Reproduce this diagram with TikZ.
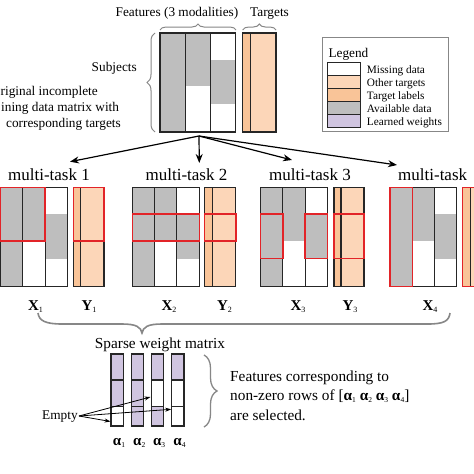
\documentclass[tikz,border=0pt]{standalone}
\usepackage{fontspec}
\setmainfont{Liberation Serif}
\usetikzlibrary{arrows.meta,decorations.pathreplacing}

\definecolor{availgray}{RGB}{190,190,190}
\definecolor{othertgt}{RGB}{252,214,184}
\definecolor{tgtlabel}{RGB}{249,196,152}
\definecolor{weightpurple}{RGB}{208,197,224}
\definecolor{selred}{RGB}{226,36,40}
\definecolor{bracegray}{RGB}{135,135,135}

\tikzset{
  cell/.style={draw=black!85, line width=1.1pt},
  sel/.style={draw=selred, line width=1.4pt},
  gbrace/.style={draw=bracegray, line width=1pt, decorate},
  txt/.style={font=\fontsize{13.3}{15}\selectfont, inner sep=0pt},
  bigtxt/.style={font=\fontsize{15.3}{18}\selectfont, inner sep=0pt},
  tasktxt/.style={font=\fontsize{17}{19}\selectfont, inner sep=0pt},
  legtxt/.style={font=\fontsize{11.3}{13}\selectfont, inner sep=0pt, anchor=base west},
  vlabel/.style={font=\fontsize{15}{17}\selectfont, inner sep=0pt, anchor=base},
  splitarrow/.style={line width=1.2pt, -{Stealth[length=9pt,width=7pt]}},
  emptyarrow/.style={line width=0.8pt, -{Stealth[length=6pt,width=4pt]}},
}

% a block of the three feature modalities: x, y, column width, height
\newcommand\featblock[4]{%
  \fill[availgray] (#1,#2) rectangle ++(#3,#4);
  \fill[availgray] ({#1+#3},#2) rectangle ({#1+2*#3},{#2+0.54*#4});
  \fill[availgray] ({#1+2*#3},{#2+0.27*#4}) rectangle ({#1+3*#3},{#2+0.72*#4});
  \draw[cell] (#1,#2) rectangle ({#1+3*#3},{#2+#4});
  \draw[cell] ({#1+#3},#2) -- ++(0,#4) ({#1+2*#3},#2) -- ++(0,#4);
}
% a target block: x, y, width, height, width of the target-label strip
\newcommand\tgtblock[5]{%
  \fill[othertgt] (#1,#2) rectangle ++(#3,#4);
  \fill[tgtlabel] (#1,#2) rectangle ++(#5,#4);
  \draw[cell] (#1,#2) rectangle ++(#3,#4);
  \draw[cell] ({#1+#5},#2) -- ++(0,#4);
}
% bold symbol with a small subscript
\newcommand\bsub[2]{\textbf{#1}\raisebox{-0.35ex}{\fontsize{8}{8}\selectfont #2}}
\newcommand\asub[2]{\textbf{#1}\raisebox{-0.35ex}{\fontsize{7.5}{8}\selectfont #2}}

\begin{document}
\begin{tikzpicture}[x=1pt, y=-1pt]
\useasboundingbox (0,0) rectangle (474,474);
\clip (0,0) rectangle (474,474);
\fill[white] (0,0) rectangle (474,474);

% ---------- full training data ----------
\featblock{160}{33}{25.2}{99}
\tgtblock{242.7}{33}{33.3}{99}{8}

\draw[gbrace, decoration={brace, amplitude=6pt}] (160,30) -- (236,30);
\draw[gbrace, decoration={brace, amplitude=6pt}] (242.7,30) -- (276,30);
\draw[gbrace, decoration={brace, amplitude=8pt}] (155,132) -- (155,33);

\node[txt, anchor=base] (feat) at (177,16.5) {Features (3 modalities)};
\node[txt, anchor=base] (tgts) at (269.5,16.5) {Targets};
\node[txt, anchor=base east] (subj) at (137,71.5) {Subjects};
\node[txt, anchor=base east] (orig1) at (98,95.5) {riginal incomplete};
\node[txt, anchor=base west] (orig2) at (1,111.5) {ining data matrix with};
\node[txt, anchor=base east] (orig3) at (121,127.5) {corresponding targets};

% ---------- legend ----------
\draw[draw=bracegray, line width=0.9pt] (322.7,37.3) rectangle (448.3,131.7);
\node[txt, anchor=base west] (legtitle) at (328.3,57.5) {Legend};
\fill[white]        (327.3,62.3)  rectangle (360.7,75.4);
\fill[othertgt]     (327.3,75.4)  rectangle (360.7,88.5);
\fill[tgtlabel]     (327.3,88.5)  rectangle (360.7,101.6);
\fill[availgray]    (327.3,101.6) rectangle (360.7,114.7);
\fill[weightpurple] (327.3,114.7) rectangle (360.7,127.8);
\draw[cell] (327.3,62.3) rectangle (360.7,127.8);
\draw[cell] (327.3,75.4) -- (360.7,75.4) (327.3,88.5) -- (360.7,88.5)
            (327.3,101.6) -- (360.7,101.6) (327.3,114.7) -- (360.7,114.7);
\node[legtxt] (lg1) at (366.7,73.3)  {Missing data};
\node[legtxt] (lg2) at (366.7,86.4)  {Other targets};
\node[legtxt] (lg3) at (366.7,99.5)  {Target labels};
\node[legtxt] (lg4) at (366.7,112.6) {Available data};
\node[legtxt] (lg5) at (366.7,125.7) {Learned weights};

% ---------- split into tasks ----------
\coordinate (src) at (199,136);
\coordinate (t1) at (70,161.7);
\coordinate (t2) at (199.3,163);
\coordinate (t3) at (292,160);
\coordinate (t4) at (397,165);
\draw[splitarrow] (src) -- (t1);
\draw[splitarrow] (src) -- (t2);
\draw[splitarrow] (src) -- (t3);
\draw[splitarrow] (src) -- (t4);

\node[tasktxt, anchor=base] (mt1) at (49,180.5) {multi-task 1};
\node[tasktxt, anchor=base] (mt2) at (186.5,180.5) {multi-task 2};
\node[tasktxt, anchor=base] (mt3) at (310,180.5) {multi-task 3};
\node[tasktxt, anchor=base west] (mt4) at (398,180.5) {multi-task};

% task matrices (top 187.3, height 99)
\featblock{0.5}{187.3}{22.3}{99}
\tgtblock{73.3}{187.3}{30.7}{99}{7.4}
\featblock{132.3}{187.3}{22.3}{99}
\tgtblock{204.3}{187.3}{31.5}{99}{8}
\featblock{260.5}{187.3}{22.3}{99}
\tgtblock{334}{187.3}{30}{99}{7}
\featblock{390}{187.3}{22.3}{99}
\tgtblock{462.7}{187.3}{31}{99}{7.5}

% selected subjects / modalities
\draw[sel] (0.5,187.3) rectangle (45.1,240.8);
\draw[sel] (73.3,187.3) rectangle (104,240.8);
\draw[sel] (132.3,214) rectangle (199.2,240.8);
\draw[sel] (204.3,214) rectangle (235.8,240.8);
\draw[sel] (260.5,214) rectangle (282.8,258.6);
\draw[sel] (305.1,214) rectangle (327.4,258.6);
\draw[sel] (334,214) rectangle (364,258.6);
\draw[sel] (390,187.3) rectangle (412.3,286.3);
\draw[sel] (462.7,187.3) rectangle (493.7,286.3);

\node[vlabel] (x1) at (35.5,310) {\bsub{X}{1}};
\node[vlabel] (y1) at (89,310) {\bsub{Y}{1}};
\node[vlabel] (x2) at (169,310) {\bsub{X}{2}};
\node[vlabel] (y2) at (224.5,310) {\bsub{Y}{2}};
\node[vlabel] (x3) at (298,310) {\bsub{X}{3}};
\node[vlabel] (y3) at (350,310) {\bsub{Y}{3}};
\node[vlabel] (x4) at (430,310) {\bsub{X}{4}};

% brace gathering all tasks
\draw[draw=bracegray, line width=1.6pt]
  (38,313) .. controls (39,321) and (46,324) .. (62,324) -- (122,324)
  .. controls (136,324) and (141,327) .. (142,333)
  .. controls (143,327) and (148,324) .. (162,324) -- (428,324)
  .. controls (444,324) and (449,321) .. (450,313);

% ---------- sparse weight matrix ----------
\node[bigtxt, anchor=base] (swm) at (160,348) {Sparse weight matrix};

% alpha_1
\fill[weightpurple] (111,354) rectangle (123.3,406.7);
% alpha_2
\fill[weightpurple] (131.4,354) rectangle (143.7,426);
% alpha_3
\fill[weightpurple] (151.2,354) rectangle (163.5,380);
\fill[weightpurple] (151.2,406.7) rectangle (163.5,426);
% alpha_4
\fill[weightpurple] (171.7,354) rectangle (184,380);
\foreach \cx in {111,131.4,151.2,171.7}{
  \draw[cell] (\cx,354) rectangle ++(12.3,72);
  \draw[cell] (\cx,380) -- ++(12.3,0) (\cx,406.7) -- ++(12.3,0);
}

\node[txt, anchor=base west] (empty) at (42,419.5) {Empty};
\coordinate (e0) at (79,416);
\coordinate (e1) at (110.5,421.5);
\coordinate (e2) at (150.5,397);
\coordinate (e3) at (171.2,409.3);
\draw[emptyarrow] (e0) -- (e1);
\draw[emptyarrow] (e0) -- (e2);
\draw[emptyarrow] (e0) -- (e3);

\node[vlabel] (a1) at (119,445) {\asub{α}{1}};
\node[vlabel] (a2) at (139.3,445) {\asub{α}{2}};
\node[vlabel] (a3) at (159.1,445) {\asub{α}{3}};
\node[vlabel] (a4) at (179.5,445) {\asub{α}{4}};

\draw[gbrace, line width=1.3pt, decoration={brace, amplitude=13pt}] (204,355) -- (204,427);

\node[bigtxt, anchor=base west] (sel1) at (230,381) {Features corresponding to};
\node[bigtxt, anchor=base west] (sel2) at (230,400.5) {non-zero rows of [\asub{α}{1} \asub{α}{2} \asub{α}{3} \asub{α}{4}]};
\node[bigtxt, anchor=base west] (sel3) at (230,420) {are selected.};
\end{tikzpicture}
\end{document}
